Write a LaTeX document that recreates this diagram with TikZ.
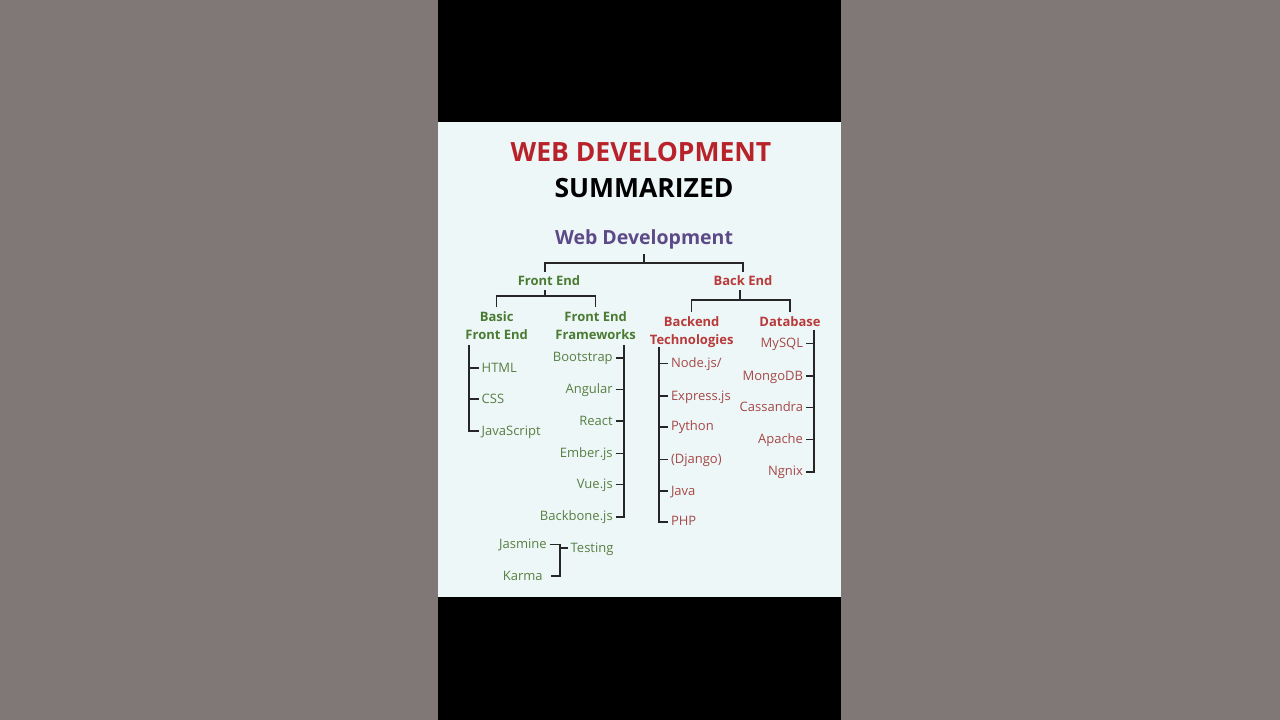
\documentclass[tikz,border=0pt]{standalone}
\usepackage{fontspec}
\setmainfont{Open Sans}
\usepackage{tikz}
\definecolor{sidegray}{HTML}{7F7876}
\definecolor{panel}{HTML}{EEF7F7}
\definecolor{titlered}{HTML}{B8232B}
\definecolor{webpurple}{HTML}{5C4A88}
\definecolor{feGreen}{HTML}{4A7B32}
\definecolor{feItem}{HTML}{577F43}
\definecolor{beRed}{HTML}{B83A3A}
\definecolor{beItem}{HTML}{A54848}
\tikzset{
  title/.style={font=\bfseries\fontsize{26.5}{30}\selectfont, inner sep=0pt},
  head/.style={font=\bfseries\fontsize{13}{18}\selectfont, align=center, inner sep=0pt, outer sep=5pt},
  item/.style={font=\fontsize{13}{16}\selectfont, inner sep=0pt, outer sep=3pt, text height=9pt, text depth=1pt},
  tree/.style={draw=black!85, line width=1.2pt},
  list/.style={draw=black!85, line width=1.6pt},
}
\begin{document}
\begin{tikzpicture}[x=1pt,y=1pt]
\useasboundingbox (0,0) rectangle (1280,-720);
\fill [sidegray] (0,0) rectangle (1280,-720);
\fill [black] (438,0) rectangle (841,-720);
\fill [panel] (438,-122) rectangle (841,-597);
\node [title, text=titlered] (t1) at (641,-152) {WEB DEVELOPMENT};
\node [title] (t2) at (644,-188) {SUMMARIZED};
\node [head, text=webpurple, font=\bfseries\fontsize{19.5}{22}\selectfont] (web) at (644,-239) {Web Development};
\node [head, text=feGreen, outer sep=4pt] (fe) at (549,-281) {Front End};
\node [head, text=beRed, outer sep=4pt] (be) at (743,-281) {Back End};
\node [head, text=feGreen, anchor=north] (bfe) at (496.7,-307) {Basic\\Front End};
\node [head, text=feGreen, anchor=north] (ffw) at (595.7,-307) {Front End\\Frameworks};
\node [head, text=beRed, anchor=north] (bt) at (691.7,-312) {Backend\\Technologies};
\node [head, text=beRed] (db) at (790,-321.7) {Database};
% tree
\coordinate (webjoin) at (644,-263);
\coordinate (fejoin) at (545,-296);
\coordinate (bejoin) at (740,-300);
\draw [tree] (web.south) -- (webjoin);
\draw [tree] ([xshift=-4pt]fe.north) |- (webjoin) -| (be.north);
\draw [tree] ([xshift=-4pt]fe.south) -- (fejoin);
\draw [tree] (bfe.north) |- (fejoin) -| (ffw.north);
\draw [tree] ([xshift=-3pt]be.south) -- (bejoin);
\draw [tree] (bt.north) |- (bejoin) -| (db.north);
% front end lists
\begin{scope}[every node/.style={item, text=feItem}]
\node [anchor=west] (html) at (478.7,-368) {HTML};
\node [anchor=west] (css) at (478.7,-399) {CSS};
\node [anchor=west] (js) at (478.7,-431) {JavaScript};
\node [anchor=east] (bootstrap) at (615.7,-357.7) {Bootstrap};
\node [anchor=east] (angular) at (615.7,-389.3) {Angular};
\node [anchor=east] (react) at (615.7,-421) {React};
\node [anchor=east] (ember) at (615.7,-453.3) {Ember.js};
\node [anchor=east] (vue) at (615.7,-484.3) {Vue.js};
\node [anchor=east] (backbone) at (615.7,-516.7) {Backbone.js};
\node [anchor=east] (jasmine) at (549.7,-544.3) {Jasmine};
\node [anchor=east, outer sep=8pt] (karma) at (550.7,-576) {Karma};
\node [anchor=west] (testing) at (567.7,-548) {Testing};
\end{scope}
% back end lists
\begin{scope}[every node/.style={item, text=beItem}]
\node [anchor=west] (nodejs) at (668,-363.3) {Node.js/};
\node [anchor=west] (express) at (668,-396) {Express.js};
\node [anchor=west] (python) at (668,-426.7) {Python};
\node [anchor=west] (django) at (668,-459.3) {(Django)};
\node [anchor=west] (java) at (668,-491) {Java};
\node [anchor=west] (php) at (668,-521.7) {PHP};
\node [anchor=east] (mysql) at (806,-343.3) {MySQL};
\node [anchor=east] (mongo) at (806,-376) {MongoDB};
\node [anchor=east] (cassandra) at (806,-407.3) {Cassandra};
\node [anchor=east] (apache) at (806,-439.3) {Apache};
\node [anchor=east] (ngnix) at (806,-471.7) {Ngnix};
\end{scope}
\coordinate (bfetop) at (469,-345);
\coordinate (ffwtop) at (624,-345);
\coordinate (bttop) at (659,-347);
\coordinate (dbtop) at (814,-330);
\coordinate (testjoin) at (560,-548);
\draw [list] (bfetop) |- (js);
\foreach \n in {html,css} \draw [list] (\n) -- (\n -| bfetop);
\draw [list] (ffwtop) |- (backbone);
\foreach \n in {bootstrap,angular,react,ember,vue} \draw [list] (\n) -- (\n -| ffwtop);
\draw [list] (bttop) |- (php);
\foreach \n in {nodejs,express,python,django,java} \draw [list] (\n) -- (\n -| bttop);
\draw [list] (dbtop) |- (ngnix);
\foreach \n in {mysql,mongo,cassandra,apache} \draw [list] (\n) -- (\n -| dbtop);
\draw [list] (jasmine) -| (testjoin) |- (karma);
\draw [list] (testjoin) -- (testing);
\end{tikzpicture}
\end{document}
